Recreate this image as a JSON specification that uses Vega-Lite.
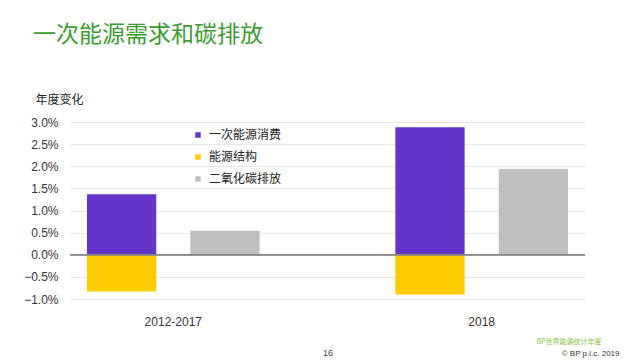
{
  "$schema": "https://vega.github.io/schema/vega-lite/v6.json",
  "width": 515,
  "height": 177,
  "autosize": "none",
  "padding": {"left": 70, "top": 122, "right": 55, "bottom": 61},
  "background": "white",
  "title": {
    "text": "一次能源需求和碳排放",
    "anchor": "start",
    "frame": "group",
    "dx": -37,
    "offset": 46,
    "font": "Noto Sans CJK SC",
    "fontSize": 23,
    "fontWeight": "normal",
    "color": "#3a9c2f"
  },
  "config": {
    "view": {"stroke": null},
    "font": "Noto Sans CJK SC"
  },
  "data": {
    "values": [
      {"period": "2012-2017", "series": "一次能源消费", "pos": "能源", "value": 0.0137},
      {"period": "2012-2017", "series": "能源结构", "pos": "能源", "value": -0.0083},
      {"period": "2012-2017", "series": "二氧化碳排放", "pos": "碳", "value": 0.0054},
      {"period": "2018", "series": "一次能源消费", "pos": "能源", "value": 0.0288},
      {"period": "2018", "series": "能源结构", "pos": "能源", "value": -0.009},
      {"period": "2018", "series": "二氧化碳排放", "pos": "碳", "value": 0.0194}
    ]
  },
  "resolve": {"scale": {"x": "independent", "y": "independent"}},
  "layer": [
    {
      "mark": {"type": "bar"},
      "encoding": {
        "x": {
          "field": "period",
          "type": "nominal",
          "sort": ["2012-2017", "2018"],
          "scale": {"paddingInner": 0.44, "paddingOuter": 0.055},
          "axis": {
            "labelAngle": 0,
            "ticks": false,
            "domain": false,
            "labelPadding": 17,
            "labelFont": "Liberation Sans",
            "labelFontSize": 12,
            "labelColor": "#333",
            "title": "16",
            "titleFont": "Liberation Sans",
            "titleFontSize": 9,
            "titleFontWeight": "normal",
            "titleColor": "#444",
            "titleY": 53,
            "titleBaseline": "middle"
          }
        },
        "xOffset": {
          "field": "pos",
          "type": "nominal",
          "sort": ["能源", "碳"],
          "scale": {"paddingInner": 0.33, "paddingOuter": 0}
        },
        "y": {
          "field": "value",
          "type": "quantitative",
          "scale": {"domain": [-0.01, 0.03], "nice": false},
          "axis": {
            "values": [-0.01, -0.005, 0, 0.005, 0.01, 0.015, 0.02, 0.025, 0.03],
            "format": ".1%",
            "grid": true,
            "gridColor": "#e8e8e8",
            "domain": false,
            "ticks": false,
            "labelPadding": 12,
            "labelFont": "Liberation Sans",
            "labelFontSize": 12,
            "labelColor": "#333",
            "title": "年度变化",
            "titleAngle": 0,
            "titleAlign": "left",
            "titleBaseline": "middle",
            "titleX": -35,
            "titleY": -23,
            "titleFont": "Noto Sans CJK SC",
            "titleFontSize": 12,
            "titleFontWeight": "normal",
            "titleColor": "#222"
          }
        },
        "color": {
          "field": "series",
          "type": "nominal",
          "scale": {
            "domain": ["一次能源消费", "能源结构", "二氧化碳排放"],
            "range": ["#6633c8", "#ffcc00", "#bfbfbf"]
          },
          "legend": {
            "orient": "none",
            "legendX": 122,
            "legendY": 7,
            "title": null,
            "symbolType": "square",
            "symbolSize": 30,
            "symbolStrokeWidth": 0,
            "labelFont": "Noto Sans CJK SC",
            "labelFontSize": 12,
            "labelColor": "#222",
            "labelOffset": 5,
            "rowPadding": 10
          }
        },
        "order": {"field": "series", "sort": "descending"}
      }
    },
    {
      "mark": {"type": "rule", "color": "#888888", "strokeWidth": 1},
      "encoding": {
        "y": {
          "datum": 0,
          "type": "quantitative",
          "scale": {"domain": [-0.01, 0.03], "nice": false},
          "axis": {
            "orient": "right",
            "labels": false,
            "ticks": false,
            "domain": false,
            "grid": false,
            "title": "© BP p.l.c. 2019",
            "titleAngle": 0,
            "titleAlign": "right",
            "titleBaseline": "middle",
            "titleX": 34,
            "titleY": 231,
            "titleFont": "Liberation Sans",
            "titleFontSize": 8,
            "titleFontWeight": "normal",
            "titleColor": "#333"
          }
        }
      }
    },
    {
      "mark": {"type": "rule", "strokeOpacity": 0},
      "encoding": {
        "x": {
          "datum": 0,
          "type": "quantitative",
          "scale": {"domain": [0, 1]},
          "axis": {
            "orient": "top",
            "labels": false,
            "ticks": false,
            "domain": false,
            "grid": false,
            "title": "BP世界能源统计年鉴",
            "titleAlign": "right",
            "titleAnchor": "start",
            "titleBaseline": "middle",
            "titleX": 531,
            "titleY": 219,
            "titleFont": "Noto Sans CJK SC",
            "titleFontSize": 7,
            "titleFontWeight": "normal",
            "titleColor": "#8cc63f"
          }
        }
      }
    }
  ]
}
